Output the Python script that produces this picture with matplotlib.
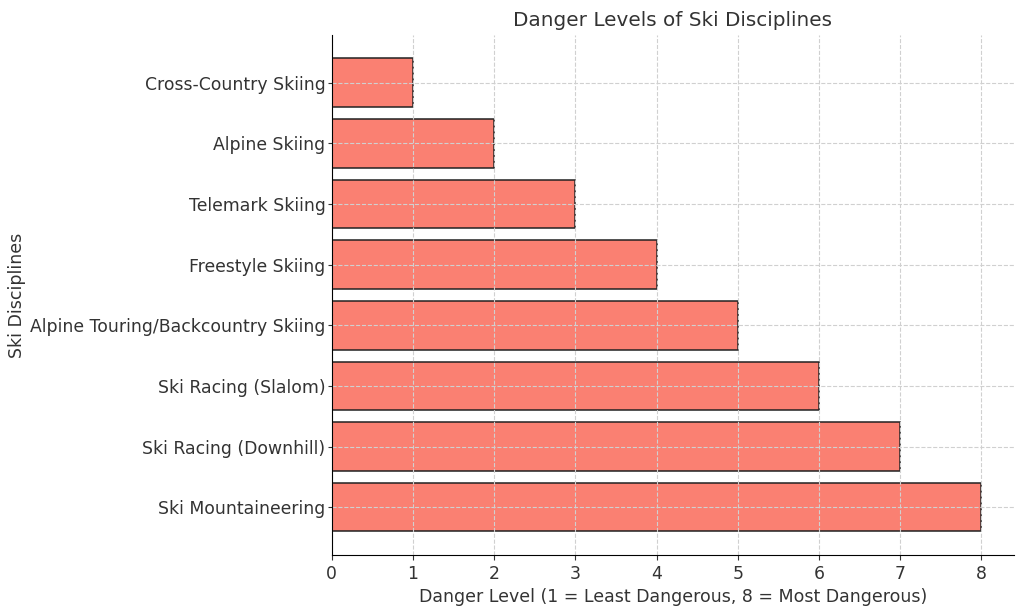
import matplotlib.pyplot as plt

# Ski disciplines and their danger levels (bottom to top)
disciplines = [
    "Ski Mountaineering",
    "Ski Racing (Downhill)",
    "Ski Racing (Slalom)",
    "Alpine Touring/Backcountry Skiing",
    "Freestyle Skiing",
    "Telemark Skiing",
    "Alpine Skiing",
    "Cross-Country Skiing",
]
danger_levels = [8, 7, 6, 5, 4, 3, 2, 1]

plt.rcParams['text.color'] = '#333333'
plt.rcParams['axes.labelcolor'] = '#333333'
plt.rcParams['xtick.color'] = '#333333'
plt.rcParams['ytick.color'] = '#333333'

fig, ax = plt.subplots(figsize=(10.24, 6.1), dpi=100)
ax.barh(disciplines, danger_levels, color='salmon', edgecolor='#222222', linewidth=1.1)
ax.set_xlabel("Danger Level (1 = Least Dangerous, 8 = Most Dangerous)", fontsize=12.5)
ax.set_ylabel("Ski Disciplines", fontsize=12.5, labelpad=3)
ax.set_title("Danger Levels of Ski Disciplines", fontsize=14.4)
ax.tick_params(labelsize=12.4)
ax.tick_params(axis='y', length=3, pad=1.5)
ax.grid(True, linestyle='--', color='#d0d0d0', linewidth=0.8)
ax.spines['top'].set_visible(False)
ax.spines['right'].set_visible(False)
fig.subplots_adjust(left=0.324, right=0.99, top=0.943, bottom=0.09)
fig.savefig("out.png")
